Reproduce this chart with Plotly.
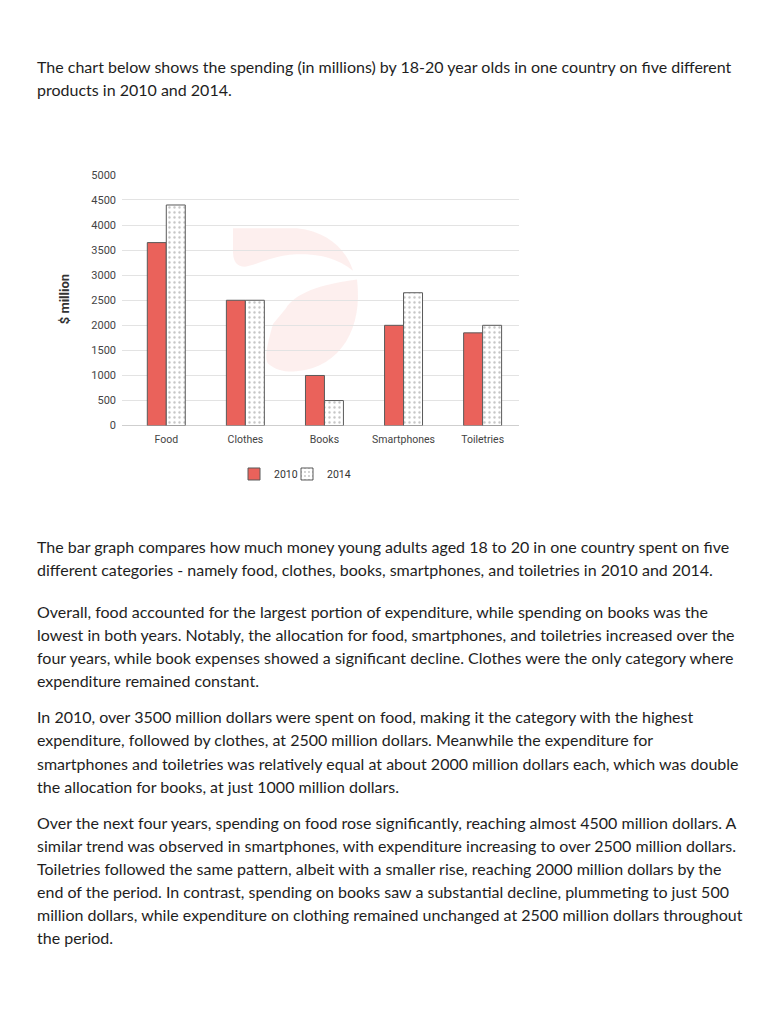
import plotly.graph_objects as go

categories = ["Food", "Clothes", "Books", "Smartphones", "Toiletries"]
values_2010 = [3650, 2500, 1000, 2000, 1850]
values_2014 = [4400, 2500, 500, 2650, 2000]
y_ticks = [0, 500, 1000, 1500, 2000, 2500, 3000, 3500, 4000, 4500, 5000]

intro_lines = [
    "The chart below shows the spending (in millions) by 18-20 year olds in one country on five different",
    "products in 2010 and 2014.",
]
paragraphs = [
    ["The bar graph compares how much money young adults aged 18 to 20 in one country spent on five",
     "different categories - namely food, clothes, books, smartphones, and toiletries in 2010 and 2014."],
    ["Overall, food accounted for the largest portion of expenditure, while spending on books was the",
     "lowest in both years. Notably, the allocation for food, smartphones, and toiletries increased over the",
     "four years, while book expenses showed a significant decline. Clothes were the only category where",
     "expenditure remained constant."],
    ["In 2010, over 3500 million dollars were spent on food, making it the category with the highest",
     "expenditure, followed by clothes, at 2500 million dollars. Meanwhile the expenditure for",
     "smartphones and toiletries was relatively equal at about 2000 million dollars each, which was double",
     "the allocation for books, at just 1000 million dollars."],
    ["Over the next four years, spending on food rose significantly, reaching almost 4500 million dollars. A",
     "similar trend was observed in smartphones, with expenditure increasing to over 2500 million dollars.",
     "Toiletries followed the same pattern, albeit with a smaller rise, reaching 2000 million dollars by the",
     "end of the period. In contrast, spending on books saw a substantial decline, plummeting to just 500",
     "million dollars, while expenditure on clothing remained unchanged at 2500 million dollars throughout",
     "the period."],
]

# page is rendered with an 8px body margin; work in page pixel coords
OFF = 8
W, H = 768 - 2 * OFF, 1024 - 2 * OFF
def px(x):
    return (x - OFF) / W
def py(y):
    return 1 - (y - OFF) / H

fig = go.Figure()
fig.add_trace(go.Bar(
    x=categories, y=values_2010, name="2010", legend="legend",
    marker=dict(color="#EA625B", line=dict(color="#5a5a5a", width=1)),
))
fig.add_trace(go.Bar(
    x=categories, y=values_2014, name="2014", legend="legend2",
    marker=dict(color="white", line=dict(color="#5a5a5a", width=1),
                pattern=dict(shape=".", fgcolor="#8a8a8a", bgcolor="white", size=5, solidity=0.18)),
))

annotations = []
body_font = dict(family="Lato", size=16, color="#1e1e1e")
all_blocks = [intro_lines] + paragraphs
starts = [61, 547, 613, 720, 827]
for block, y0 in zip(all_blocks, starts):
    for i, line in enumerate(block):
        annotations.append(dict(
            text=line, x=px(35), y=py(y0 + i * 23.4), xref="paper", yref="paper",
            xanchor="left", yanchor="middle", showarrow=False, font=body_font,
        ))

annotations.append(dict(
    text="<b>$ million</b>", x=px(64), y=py(297), xref="paper", yref="paper",
    textangle=-90, showarrow=False, xanchor="center", yanchor="middle",
    font=dict(family="Roboto", size=13, color="#333333"),
))

def pts(points):
    return " ".join(f"{px(a):.5f},{py(b):.5f}" for a, b in points)

wm_color = "rgba(236,98,89,0.10)"
path1 = ("M {} L {} C {} {} {} C {} {} {} C {} {} {} C {} {} {} Z").format(
    pts([(233, 225)]), pts([(297, 225)]),
    pts([(327, 228)]), pts([(346, 246)]), pts([(353, 268)]),
    pts([(335, 254)]), pts([(315, 250)]), pts([(290, 252)]),
    pts([(270, 254)]), pts([(255, 263)]), pts([(245, 264)]),
    pts([(236, 264)]), pts([(233, 258)]), pts([(233, 248)]),
)
path2 = ("M {} C {} {} {} L {} C {} {} {} C {} {} {} C {} {} {} Z").format(
    pts([(357, 277)]),
    pts([(310, 283)]), pts([(293, 295)]), pts([(286, 306)]),
    pts([(273, 322)]),
    pts([(268, 340)]), pts([(264, 356)]), pts([(268, 362)]),
    pts([(276, 369)]), pts([(286, 371)]), pts([(296, 370)]),
    pts([(342, 366)]), pts([(363, 325)]), pts([(357, 277)]),
)
shapes = [
    dict(type="path", path=path1, xref="paper", yref="paper", fillcolor=wm_color, line=dict(width=0), layer="below"),
    dict(type="path", path=path2, xref="paper", yref="paper", fillcolor=wm_color, line=dict(width=0), layer="below"),
]

legend_font = dict(family="Roboto", size=10.5, color="#333333")
fig.update_layout(
    width=W, height=H,
    margin=dict(l=0, r=0, t=0, b=0),
    paper_bgcolor="white", plot_bgcolor="white",
    barmode="group", bargap=0.52, bargroupgap=0,
    xaxis=dict(domain=[px(122), px(519)], range=[-0.56, 4.46], showgrid=False,
               showline=False, ticks="", tickfont=dict(family="Roboto", size=10.5, color="#444444"),
               ticklabelstandoff=6),
    yaxis=dict(domain=[py(425), py(171)], range=[0, 5000], tickvals=y_ticks,
               showgrid=True, gridcolor="#e3e3e3", gridwidth=1, zeroline=True,
               zerolinecolor="#cfcfcf", zerolinewidth=1, showline=False, ticks="",
               tickfont=dict(family="Roboto", size=11, color="#444444"), ticklabelstandoff=5),
    showlegend=True,
    legend=dict(orientation="h", x=px(234), y=py(474), xanchor="left", yanchor="middle",
                font=legend_font, itemwidth=30, bgcolor="rgba(0,0,0,0)"),
    legend2=dict(orientation="h", x=px(287), y=py(474), xanchor="left", yanchor="middle",
                 font=legend_font, itemwidth=30, bgcolor="rgba(0,0,0,0)"),
    annotations=annotations,
    shapes=shapes,
)

fig.write_html("out.html")
